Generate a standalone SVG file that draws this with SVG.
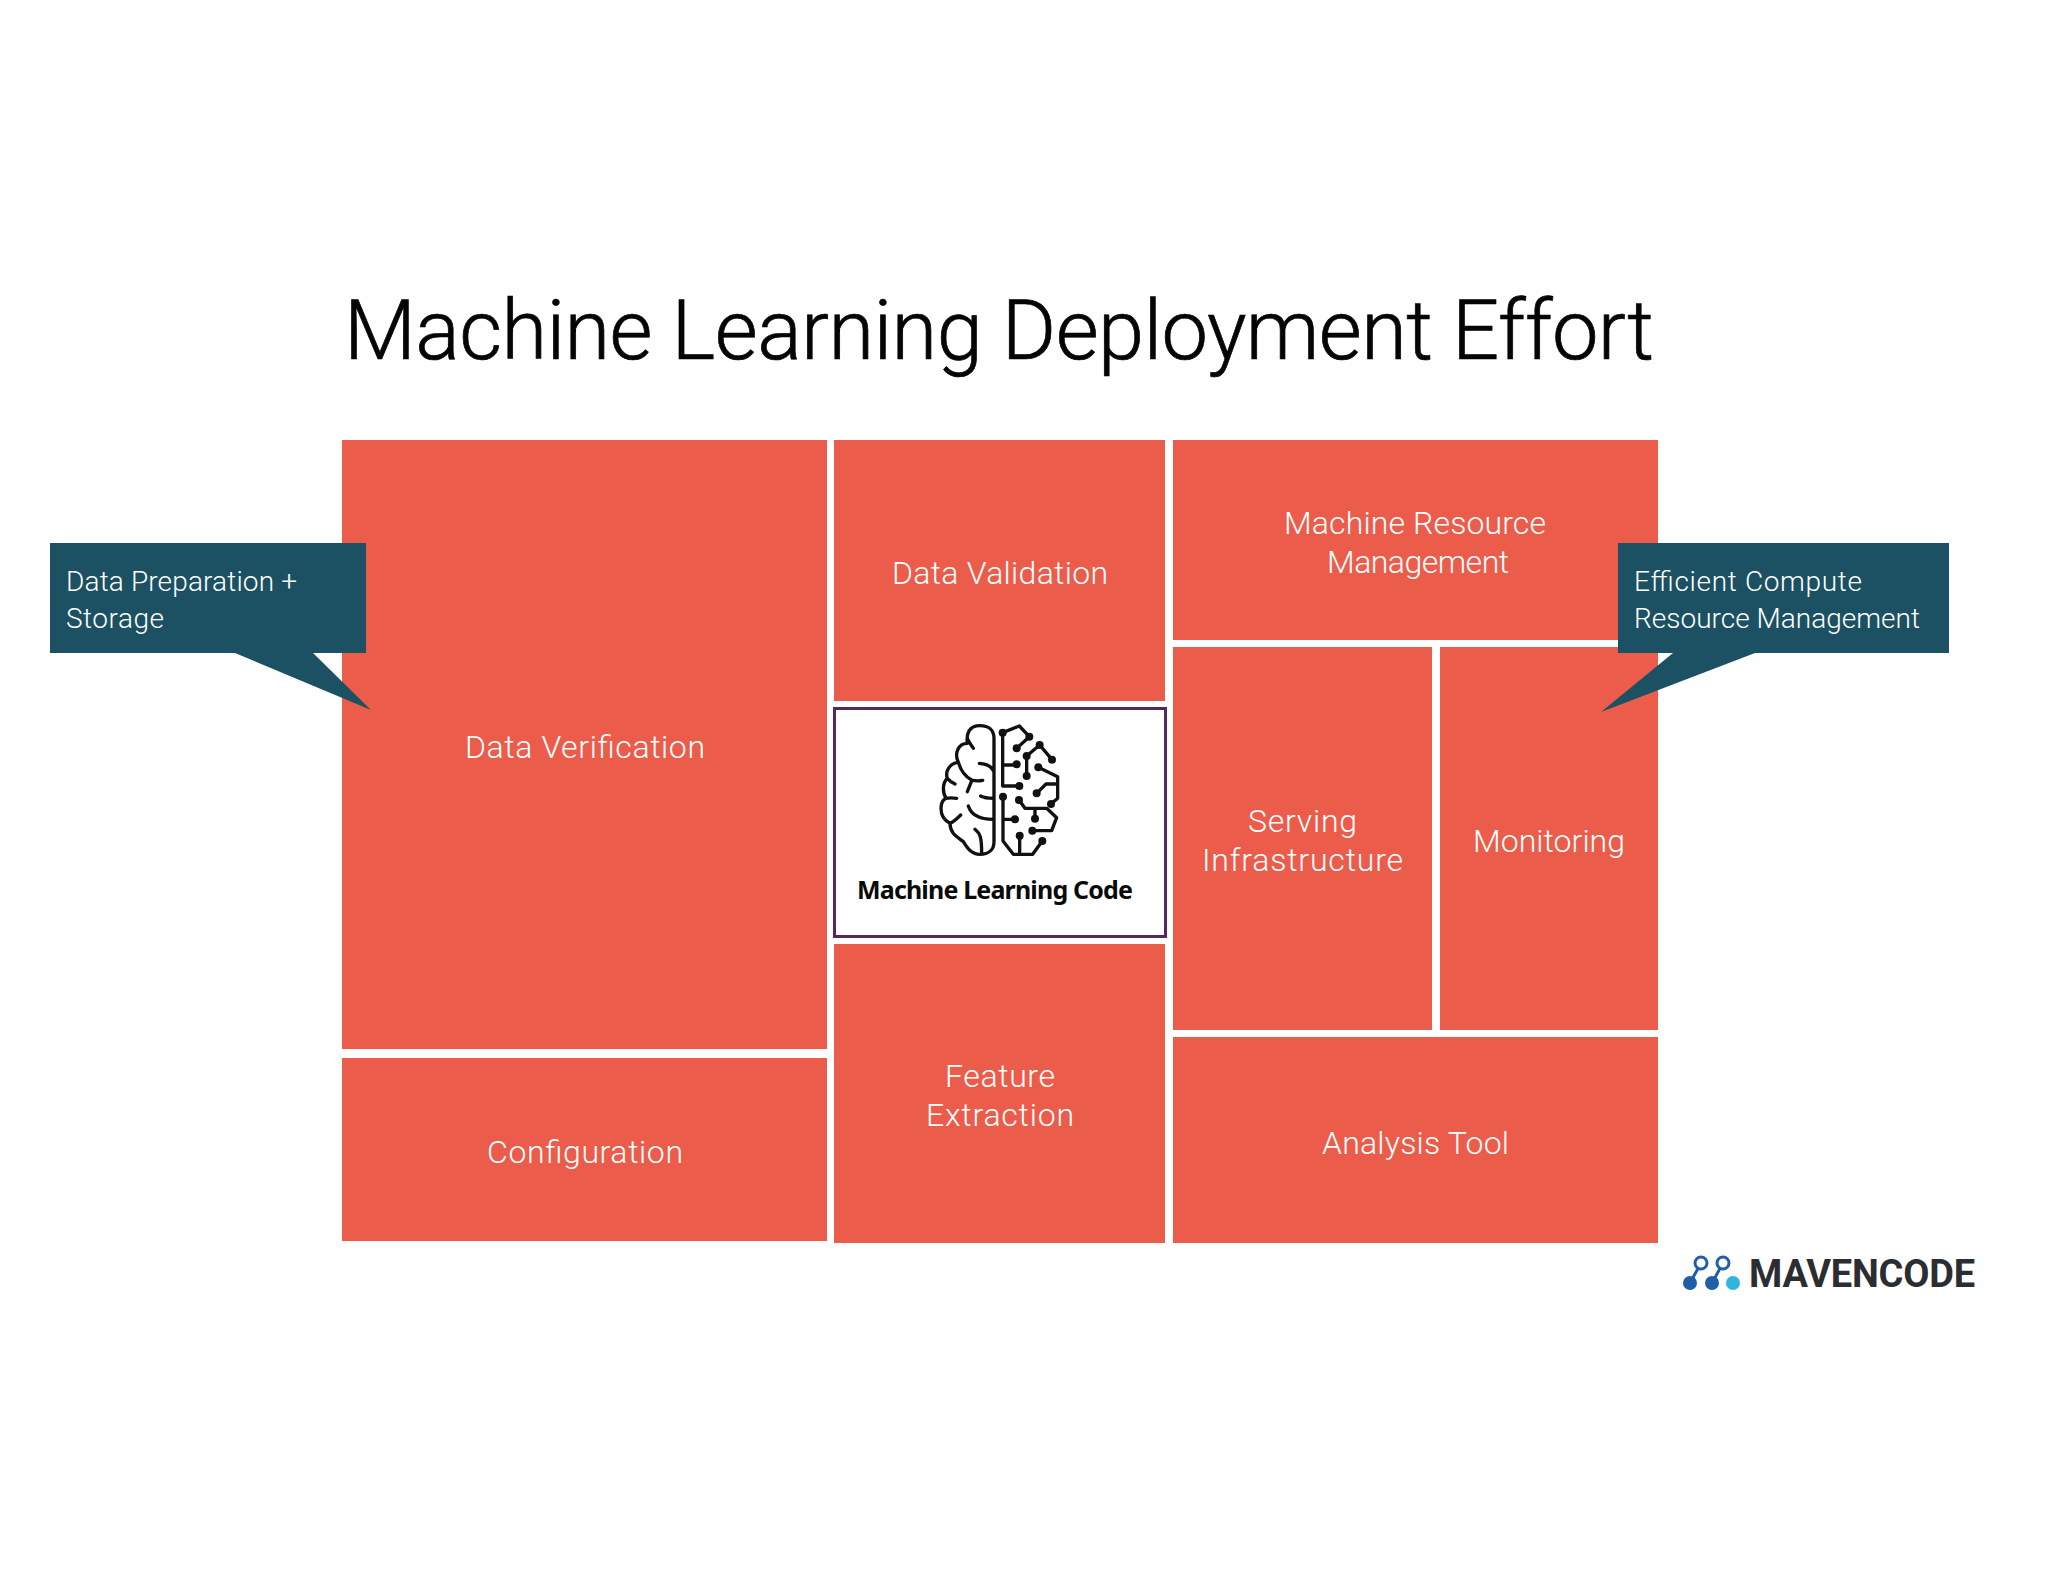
<svg xmlns="http://www.w3.org/2000/svg" width="2048" height="1582" viewBox="0 0 2048 1582">
<style>
.b{fill:#ec5c4a}
.l{font-family:Roboto,"Liberation Sans",sans-serif;font-size:32px;font-weight:300;fill:#fff}
.c{fill:#1c5163}
.t{font-family:Roboto,"Liberation Sans",sans-serif;font-size:28px;font-weight:300;fill:#fff}
.br{fill:none;stroke:#111;stroke-width:10;stroke-linecap:round;stroke-linejoin:round}
.d{fill:#111}
</style>
<rect width="2048" height="1582" fill="#fefefe"/>
<text id="title" x="344" y="359" font-family="Roboto,'Liberation Sans',sans-serif" font-size="83" font-weight="300" fill="#050505" stroke="#050505" stroke-width=".7" textLength="1310" lengthAdjust="spacing">Machine Learning Deployment Effort</text>
<g id="data-verification"><rect class="b" x="342" y="440" width="485" height="609"/><text class="l" x="465" y="758" textLength="240" lengthAdjust="spacing">Data Verification</text></g>
<g id="configuration"><rect class="b" x="342" y="1058" width="485" height="183"/><text class="l" x="487" y="1163" textLength="196" lengthAdjust="spacing">Configuration</text></g>
<g id="data-validation"><rect class="b" x="834" y="440" width="331" height="261"/><text class="l" x="892" y="584" textLength="216" lengthAdjust="spacing">Data Validation</text></g>
<g id="feature-extraction"><rect class="b" x="834" y="944" width="331" height="299"/><text class="l" x="945" y="1087" textLength="110" lengthAdjust="spacing">Feature</text><text class="l" x="926" y="1126" textLength="148" lengthAdjust="spacing">Extraction</text></g>
<g id="machine-resource"><rect class="b" x="1173" y="440" width="485" height="200"/><text class="l" x="1284" y="534" textLength="262" lengthAdjust="spacing">Machine Resource</text><text class="l" x="1327" y="573" textLength="182" lengthAdjust="spacing">Management</text></g>
<g id="serving"><rect class="b" x="1173" y="647" width="259" height="383"/><text class="l" x="1248" y="832" textLength="109" lengthAdjust="spacing">Serving</text><text class="l" x="1202" y="871" textLength="201" lengthAdjust="spacing">Infrastructure</text></g>
<g id="monitoring"><rect class="b" x="1440" y="647" width="218" height="383"/><text class="l" x="1473" y="852" textLength="152" lengthAdjust="spacing">Monitoring</text></g>
<g id="analysis"><rect class="b" x="1173" y="1037" width="485" height="206"/><text class="l" x="1322" y="1154" textLength="187" lengthAdjust="spacing">Analysis Tool</text></g>
<g id="ml-code">
<rect x="834.500" y="708.500" width="331" height="228" fill="#fff" stroke="#55285f" stroke-width="3"/>
<g transform="translate(930 720) scale(.3333)">
<path class="br" d="M218 38V198H268M218 135H260M218 38L268 18L298 50L260 85M366 119L329 75L290 108V168M325 142L383 170V235L363 252M320 220L348 192H383M219 230V363L250 403H308L337 363M219 298H255M267 240L285 265H350L380 293L365 332H307M315 265V296M269 347V403"/>
<path class="br" d="M150 17C175 17 192 30 192 55V365C192 390 175 403 150 403C125 403 112 385 100 365C80 350 60 340 60 310C40 300 33 285 33 265C33 250 38 240 48 235C38 220 36 190 52 175C45 155 58 130 85 127C72 100 85 70 112 70C108 40 118 17 150 17ZM112 55C116 68 125 75 130 85M85 127C92 150 105 170 125 180C135 183 148 183 158 181M52 175C58 182 66 188 75 192M48 235C58 233 68 233 80 235M60 310C72 305 82 295 92 285M148 130C170 132 185 140 190 152M125 183L112 215M152 228C165 235 180 235 190 235M115 258C125 290 160 298 190 298M135 328C150 340 155 350 155 400"/>
<g class="d"><circle cx="218" cy="38" r="12"/><circle cx="298" cy="50" r="12"/><circle cx="260" cy="85" r="12"/><circle cx="329" cy="75" r="12"/><circle cx="366" cy="119" r="12"/><circle cx="290" cy="108" r="12"/><circle cx="290" cy="168" r="12"/><circle cx="260" cy="133" r="12"/><circle cx="325" cy="142" r="12"/><circle cx="268" cy="198" r="12"/><circle cx="320" cy="220" r="12"/><circle cx="363" cy="252" r="12"/><circle cx="219" cy="230" r="12"/><circle cx="267" cy="240" r="12"/><circle cx="255" cy="298" r="12"/><circle cx="315" cy="296" r="12"/><circle cx="307" cy="332" r="12"/><circle cx="269" cy="347" r="12"/><circle cx="337" cy="363" r="12"/></g>
</g>
<text x="857" y="899" font-family="'Noto Sans','Open Sans',sans-serif" font-size="25" font-weight="700" fill="#0a0a0a" textLength="276" lengthAdjust="spacing">Machine Learning Code</text>
</g>
<g id="callout-left"><path class="c" d="M50 543H366V653H313L371 710L235 653H50Z"/><text class="t" x="66" y="591" textLength="231" lengthAdjust="spacing">Data Preparation +</text><text class="t" x="66" y="628" textLength="98" lengthAdjust="spacing">Storage</text></g>
<g id="callout-right"><path class="c" d="M1618 543H1949V653H1755L1601 712L1673 653H1618Z"/><text class="t" x="1634" y="591" textLength="228" lengthAdjust="spacing">Efficient Compute</text><text class="t" x="1634" y="628" textLength="286" lengthAdjust="spacing">Resource Management</text></g>
<g id="logo">
<path d="M1690 1283L1701 1263M1712 1283L1723 1263" stroke="#1f5ea8" stroke-width="3" fill="none"/>
<circle cx="1701" cy="1263" r="6" fill="#fff" stroke="#1f5ea8" stroke-width="3"/><circle cx="1723" cy="1263" r="6" fill="#fff" stroke="#1f5ea8" stroke-width="3"/>
<circle cx="1690" cy="1283" r="7" fill="#1f5ea8"/><circle cx="1712" cy="1283" r="7" fill="#1f5ea8"/><circle cx="1733" cy="1283" r="7" fill="#2fb5de"/>
<text x="1749" y="1287" font-family="Roboto,sans-serif" font-size="38" font-weight="700" fill="#2b2d33" textLength="226" lengthAdjust="spacing">MAVENCODE</text>
</g>
</svg>
